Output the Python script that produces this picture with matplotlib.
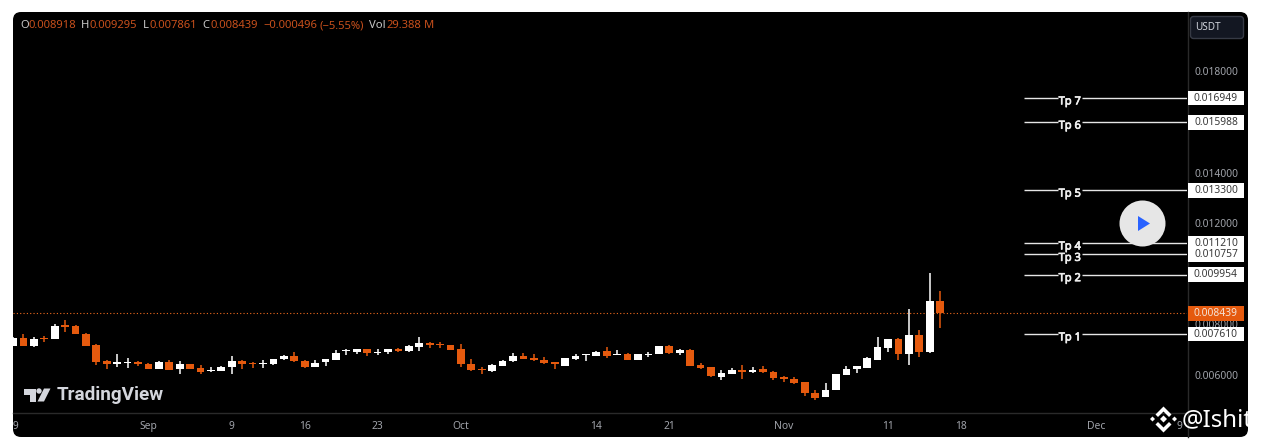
#!/usr/bin/env python3
"""TradingView style daily candles with take-profit levels."""
import matplotlib
matplotlib.use("Agg")
import matplotlib.patheffects as pe
import matplotlib.pyplot as plt
import numpy as np
from matplotlib.patches import Circle, FancyBboxPatch, Polygon, Rectangle
from matplotlib.transforms import Affine2D

W, H = 1261, 444
plt.rcParams["font.family"] = ["Noto Sans", "DejaVu Sans"]

# days counted from Sep 1
first_day = -13
opens = [
    .007148, .007451, .007134, .007438, .007425, .007979, .007913, .007622, .007161, .006528,
    .006435, .006462, .006488, .006435, .006237, .006488, .006237, .006409, .006264, .006132,
    .006158, .006303, .006554, .006462, .006409, .006422, .006607, .006739, .006554, .006317,
    .006488, .006594, .006923, .006897, .007002, .006844, .006884, .007002, .006923, .007095,
    .007266, .007187, .007161, .007002, .006409, .006198, .006132, .006356, .006528, .006725,
    .006660, .006580, .006488, .006356, .006607, .006765, .006752, .006936, .006778, .006805,
    .006594, .006765, .006805, .007121, .006844, .006976, .006369, .006303, .005908, .006026,
    .006185, .006092, .006224, .006119, .005908, .005829, .005697, .005275, .005129, .005380,
    .005987, .006224, .006264, .006594, .007055, .007411, .006805, .007556, .006910, .008918,
]
highs = [
    .007477, .007596, .007477, .007543, .007992, .008163, .007965, .007662, .007213, .006567,
    .006818, .006646, .006541, .006475, .006528, .006580, .006528, .006422, .006396, .006303,
    .006356, .006739, .006567, .006488, .006580, .006633, .006778, .006884, .006580, .006567,
    .006620, .006976, .007016, .007016, .007002, .007016, .007002, .007042, .007174, .007477,
    .007293, .007293, .007174, .007227, .006620, .006317, .006409, .006580, .006844, .006871,
    .006805, .006699, .006488, .006660, .006805, .006791, .006936, .007082, .006976, .006844,
    .006805, .006884, .007121, .007161, .007029, .007016, .006448, .006303, .006171, .006251,
    .006369, .006290, .006330, .006145, .005960, .005894, .005697, .005380, .005657, .006040,
    .006330, .006330, .006699, .007477, .007411, .007451, .008585, .007767, .010010, .009295,
]
lows = [
    .007121, .007134, .007108, .007306, .007425, .007702, .007596, .007134, .006383, .006211,
    .006317, .006264, .006356, .006224, .006211, .006198, .006026, .006224, .006026, .006119,
    .006158, .006026, .006211, .006264, .006264, .006383, .006580, .006514, .006264, .006290,
    .006356, .006594, .006778, .006805, .006752, .006791, .006805, .006910, .006910, .006950,
    .007068, .007068, .006976, .006317, .006158, .006026, .006119, .006343, .006514, .006620,
    .006541, .006422, .006237, .006356, .006594, .006528, .006725, .006673, .006765, .006580,
    .006580, .006712, .006805, .006831, .006765, .006343, .006237, .005921, .005802, .006013,
    .005829, .006079, .006066, .005802, .005723, .005644, .005169, .005011, .005116, .005380,
    .005987, .006079, .006251, .006594, .006910, .006580, .006383, .006699, .006871, .007861,
]
closes = [
    .007451, .007134, .007411, .007398, .007939, .007899, .007596, .007134, .006488, .006435,
    .006488, .006488, .006409, .006237, .006488, .006198, .006409, .006237, .006119, .006198,
    .006303, .006554, .006422, .006409, .006475, .006607, .006739, .006528, .006303, .006475,
    .006620, .006871, .006950, .007002, .006844, .006871, .007002, .006923, .007121, .007266,
    .007174, .007161, .006989, .006422, .006171, .006171, .006369, .006541, .006725, .006633,
    .006567, .006462, .006409, .006660, .006725, .006791, .006897, .006752, .006805, .006594,
    .006805, .006831, .007121, .006844, .006976, .006343, .006277, .005947, .006053, .006185,
    .006106, .006185, .006106, .005868, .005815, .005670, .005275, .005090, .005406, .006013,
    .006224, .006330, .006660, .007082, .007411, .006805, .007556, .006910, .008918, .008439,
]

tick_days = [-13, 0, 8, 15, 22, 30, 43, 50, 61, 71, 78, 91, 99]
tick_labels = ["19", "Sep", "9", "16", "23", "Oct", "14", "21", "Nov", "11", "18", "Dec", "9"]
price_ticks = [.006, .008, .010, .012, .014, .016, .018]

tp_names = ["Tp 1", "Tp 2", "Tp 3", "Tp 4", "Tp 5", "Tp 6", "Tp 7"]
tp_levels = [.007610, .009954, .010757, .011210, .013300, .015988, .016949]
last_price = .008439

UP = "#ffffff"
DOWN = "#e55a0e"
GRID = "#2a2a2a"
TEXT = "#a0a3aa"
HEAD = "#c8501c"

fig = plt.figure(figsize=(W / 100, H / 100), dpi=100, facecolor="white")
# pixel coordinates of the picture, origin top left
px = Affine2D().scale(1 / W, -1 / H).translate(0, 1) + fig.transFigure

panel = FancyBboxPatch((13, 12), 1235, 425, boxstyle="round,pad=0,rounding_size=8",
                       fc="#000000", ec="none", transform=px, zorder=-1)
fig.add_artist(panel)

ax = fig.add_axes([13 / W, 1 - 413 / H, 1174 / W, 401 / H], facecolor="none")
ax.set_xlim(-12.85, 99.7)
ax.set_ylim(.004484, .020353)
for s in ax.spines.values():
    s.set_visible(False)

days = first_day + np.arange(len(opens))
o, h, l, c = map(np.array, (opens, highs, lows, closes))
colors = np.where(c >= o, UP, DOWN)
ax.vlines(days, l, h, colors=colors, lw=1.1, zorder=2)
ax.bar(days, np.maximum(np.abs(c - o), 4e-5), bottom=np.minimum(o, c), width=.74,
       color=colors, lw=0, zorder=3)

ax.axhline(last_price, color="#f06a1c", lw=.8, ls=(0, (1, 2)), zorder=1)

# take-profit lines, broken around their label
for name, lev in zip(tp_names, tp_levels):
    ax.hlines(lev, 84.1, 87.3, color="#e6e6e6", lw=1, zorder=2)
    ax.hlines(lev, 89.6, 99.7, color="#e6e6e6", lw=1, zorder=2)
    ax.annotate(name, (88.45, lev), xytext=(0, -2.8), textcoords="offset points",
                ha="center", va="center", color="#f0f0f0", fontsize=8,
                path_effects=[pe.withStroke(linewidth=.5, foreground="#f0f0f0")])

ax.set_xticks(tick_days, tick_labels)
ax.yaxis.tick_right()
ax.set_yticks(price_ticks, [f"{p:.6f}" for p in price_ticks])
ax.tick_params(axis="x", length=0, pad=6, labelsize=7.4, labelcolor=TEXT)
ax.tick_params(axis="y", length=0, pad=5.5, labelsize=7.4, labelcolor=TEXT)

# the first date label runs off the left edge of the panel
fig.add_artist(Rectangle((0, 414), 13, 23, fc="white", ec="none", transform=px, zorder=1))

# price tags on the right hand scale
pax = fig.add_axes([1187 / W, 1 - 413 / H, 61 / W, 401 / H], facecolor="none", zorder=3)
pax.set_xlim(0, 61)
pax.set_ylim(ax.get_ylim())
pax.axis("off")
tag_h = .00059
for lev in tp_levels:
    pax.add_patch(Rectangle((1, lev - tag_h / 2), 56, tag_h, fc="white", ec="none"))
    pax.text(29, lev, f"{lev:.6f}", ha="center", va="center", fontsize=7.4, color="#3a3a3a")
pax.add_patch(Rectangle((1, last_price - tag_h / 2), 56, tag_h, fc=DOWN, ec="none"))
pax.text(29, last_price, f"{last_price:.6f}", ha="center", va="center", fontsize=7.4, color="#f4e4d8")

# scale separators
fig.add_artist(plt.Line2D([1187.5, 1187.5], [12, 437], color=GRID, lw=1, transform=px, zorder=1))
fig.add_artist(plt.Line2D([13, 1187], [412.5, 412.5], color=GRID, lw=1, transform=px, zorder=1))

# currency button
fig.add_artist(FancyBboxPatch((1190.5, 16.5), 53, 22, boxstyle="round,pad=0,rounding_size=3",
                              fc="#131722", ec="#363a45", lw=1, transform=px, zorder=4))
fig.text(1195, 27.5, "USDT", transform=px, ha="left", va="center", fontsize=7.2, color="#d1d4dc", zorder=5)

# OHLC header
header = [(20, "O", "#c8c8c8"), (28.5, "0.008918", HEAD), (81, "H", "#c8c8c8"), (89.5, "0.009295", HEAD),
          (143, "L", "#c8c8c8"), (149.5, "0.007861", HEAD), (202, "C", "#c8c8c8"), (210.5, "0.008439", HEAD),
          (263, "\u22120.000496", HEAD), (320, "(\u22125.55%)", HEAD), (369, "Vol", "#c8c8c8"),
          (386, "29.388", HEAD), (424, "M", HEAD)]
for x, s, col in header:
    fig.text(x, 25.5, s, transform=px, ha="left", va="center", fontsize=8.1, color=col, zorder=5)

# play button
fig.add_artist(Circle((1142.5, 223.5), 23, fc="#e6e6e6", ec="none", transform=px, zorder=6))
fig.add_artist(Polygon([(1138, 216), (1138, 231), (1150, 223.5)], fc="#2962ff", ec="none", transform=px, zorder=7))

# TradingView mark
LOGO = "#d4d6dd"
fig.add_artist(Polygon([(23.5, 388.5), (36, 388.5), (36, 401.5), (30, 401.5), (30, 394.5), (23.5, 394.5)],
                       fc=LOGO, ec="none", transform=px, zorder=5))
fig.add_artist(Circle((39, 391), 2.7, fc=LOGO, ec="none", transform=px, zorder=5))
fig.add_artist(Polygon([(44, 388.5), (50.5, 388.5), (44, 401.5), (37.5, 401.5)],
                       fc=LOGO, ec="none", transform=px, zorder=5))
fig.text(57, 395, "TradingView", transform=px, ha="left", va="center", fontsize=13.6,
         family="Roboto", fontweight="bold", color=LOGO, zorder=5)

# Binance square watermark
marks = [
    [(1163.5, 415.5), (1167, 419), (1163.5, 422.5), (1160, 419)],
    [(1152.5, 416.5), (1155, 419), (1152.5, 421.5), (1150, 419)],
    [(1174.5, 416.5), (1177, 419), (1174.5, 421.5), (1172, 419)],
    [(1163.5, 406.5), (1171.5, 414.5), (1169, 417), (1163.5, 411.5), (1158, 417), (1155.5, 414.5)],
    [(1163.5, 432.5), (1171.5, 424.5), (1169, 422), (1163.5, 427.5), (1158, 422), (1155.5, 424.5)],
]
for pts in marks:
    fig.add_artist(Polygon(pts, fc="white", ec="none", transform=px, zorder=8))
fig.text(1182, 420, "@Ishit", transform=px, ha="left", va="center", fontsize=17.3, color="white", zorder=8)

fig.savefig("out.png", dpi=100, facecolor="white")
